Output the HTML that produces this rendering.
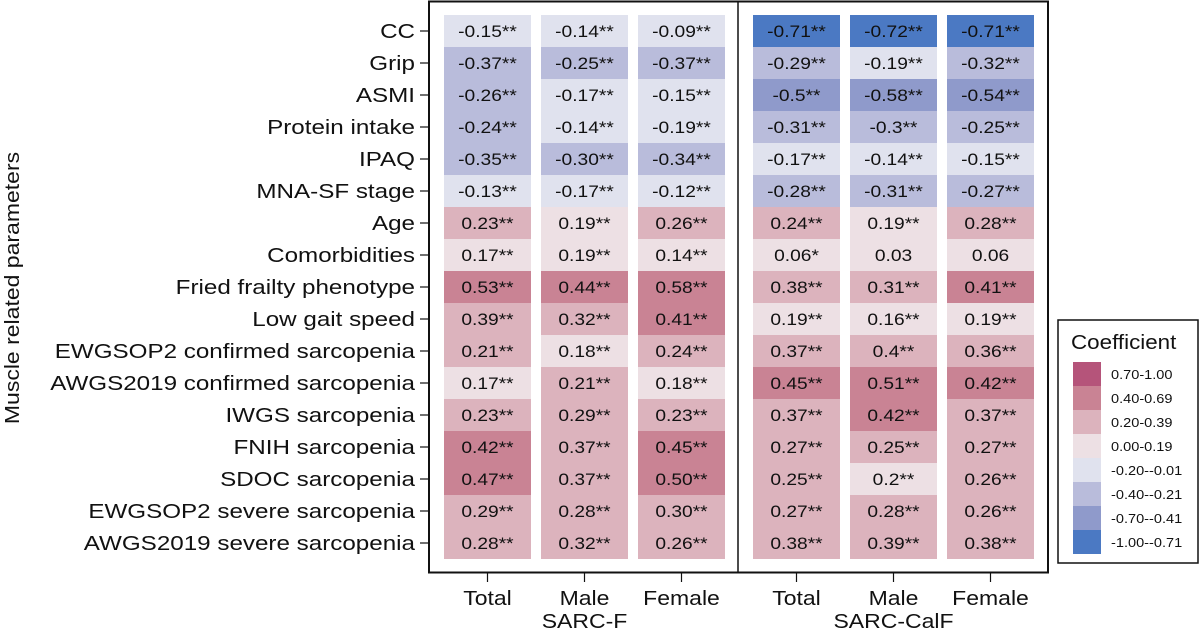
<!DOCTYPE html>
<html><head><meta charset="utf-8"><style>
body{margin:0;background:#fff;}
svg text{font-family:"Liberation Sans",Arial,sans-serif;fill:#111;}
</style></head><body>
<svg id="chart" width="1200" height="631" xmlns="http://www.w3.org/2000/svg">
<g id="cells"></g>
<g id="axes"></g>
<g id="legend"></g>
</svg>
<script>
const rows=["CC","Grip","ASMI","Protein intake","IPAQ","MNA-SF stage","Age","Comorbidities","Fried frailty phenotype","Low gait speed","EWGSOP2 confirmed sarcopenia","AWGS2019 confirmed sarcopenia","IWGS sarcopenia","FNIH sarcopenia","SDOC sarcopenia","EWGSOP2 severe sarcopenia","AWGS2019 severe sarcopenia"];
const cols=["Total","Male","Female","Total","Male","Female"];
const groups=["SARC-F","SARC-CalF"];
const labels=[
["-0.15**","-0.14**","-0.09**","-0.71**","-0.72**","-0.71**"],
["-0.37**","-0.25**","-0.37**","-0.29**","-0.19**","-0.32**"],
["-0.26**","-0.17**","-0.15**","-0.5**","-0.58**","-0.54**"],
["-0.24**","-0.14**","-0.19**","-0.31**","-0.3**","-0.25**"],
["-0.35**","-0.30**","-0.34**","-0.17**","-0.14**","-0.15**"],
["-0.13**","-0.17**","-0.12**","-0.28**","-0.31**","-0.27**"],
["0.23**","0.19**","0.26**","0.24**","0.19**","0.28**"],
["0.17**","0.19**","0.14**","0.06*","0.03","0.06"],
["0.53**","0.44**","0.58**","0.38**","0.31**","0.41**"],
["0.39**","0.32**","0.41**","0.19**","0.16**","0.19**"],
["0.21**","0.18**","0.24**","0.37**","0.4**","0.36**"],
["0.17**","0.21**","0.18**","0.45**","0.51**","0.42**"],
["0.23**","0.29**","0.23**","0.37**","0.42**","0.37**"],
["0.42**","0.37**","0.45**","0.27**","0.25**","0.27**"],
["0.47**","0.37**","0.50**","0.25**","0.2**","0.26**"],
["0.29**","0.28**","0.30**","0.27**","0.28**","0.26**"],
["0.28**","0.32**","0.26**","0.38**","0.39**","0.38**"]];
const values=[
[-0.15,-0.14,-0.09,-0.71,-0.72,-0.71],
[-0.37,-0.25,-0.37,-0.29,-0.19,-0.32],
[-0.26,-0.17,-0.15,-0.5,-0.58,-0.54],
[-0.24,-0.14,-0.19,-0.31,-0.3,-0.25],
[-0.35,-0.30,-0.34,-0.17,-0.14,-0.15],
[-0.13,-0.17,-0.12,-0.28,-0.31,-0.27],
[0.23,0.19,0.26,0.24,0.19,0.28],
[0.17,0.19,0.14,0.06,0.03,0.06],
[0.53,0.44,0.58,0.38,0.31,0.41],
[0.39,0.32,0.41,0.19,0.16,0.19],
[0.21,0.18,0.24,0.37,0.395,0.36],
[0.17,0.21,0.18,0.45,0.51,0.42],
[0.23,0.29,0.23,0.37,0.42,0.37],
[0.42,0.37,0.45,0.27,0.25,0.27],
[0.47,0.37,0.50,0.25,0.195,0.26],
[0.29,0.28,0.30,0.27,0.28,0.26],
[0.28,0.32,0.26,0.38,0.39,0.38]];
const binLabels=["0.70-1.00","0.40-0.69","0.20-0.39","0.00-0.19","-0.20--0.01","-0.40--0.21","-0.70--0.41","-1.00--0.71"];
const binLows=[0.7,0.4,0.2,0,-0.205,-0.405,-0.705,-1.01];
const binColors=["#b5547a","#c98394","#dcb3bd","#ede0e4","#e0e2ee","#b9bcdb","#8f9acb","#4b79c3"];

const NS="http://www.w3.org/2000/svg";
function mk(tag,attrs,parent,text){const e=document.createElementNS(NS,tag);for(const k in attrs)e.setAttribute(k,attrs[k]);if(text!==undefined)e.textContent=text;parent.appendChild(e);return e;}
function colorFor(v){for(let i=0;i<binLows.length;i++){if(v>=binLows[i])return binColors[i];}return binColors[binColors.length-1];}
const colLeft=[444,541,638,753,850,947], cellW=87, top0=15, rowH=32;
function xCenter(j){return colLeft[j]+cellW/2;}
function yTop(i){return top0+i*rowH;}
const cg=document.getElementById('cells'), ag=document.getElementById('axes'), lg=document.getElementById('legend');
values.forEach((r,i)=>r.forEach((v,j)=>{
  const rc=mk('rect',{x:colLeft[j],y:yTop(i),width:cellW,height:rowH,fill:colorFor(v)},cg);
  
  
  const t=mk('text',{x:0,y:0,'text-anchor':'middle','font-size':17,transform:`translate(${xCenter(j)},${yTop(i)+rowH/2+6}) scale(1.13,1)`},cg,labels[i][j]);
  
  
}));
mk('rect',{x:429,y:1.5,width:619,height:571,fill:'none',stroke:'#111','stroke-width':2},ag);
mk('line',{x1:738,y1:1,x2:738,y2:573,stroke:'#111','stroke-width':1.5},ag);
rows.forEach((r,i)=>{
  const y=yTop(i)+rowH/2;
  mk('line',{x1:420,y1:y,x2:429,y2:y,stroke:'#111','stroke-width':1.2},ag);
  const t=mk('text',{x:0,y:0,'text-anchor':'end','font-size':20,transform:`translate(415,${y+7}) scale(1.21,1)`},ag,r);
  
  
});
cols.forEach((c,j)=>{
  const x=xCenter(j);
  mk('line',{x1:x,y1:573,x2:x,y2:582,stroke:'#111','stroke-width':1.2},ag);
  const t=mk('text',{x:0,y:0,'text-anchor':'middle','font-size':20,transform:`translate(${x},605) scale(1.15,1)`},ag,c);
  
  
});
groups.forEach((g,k)=>{
  const t=mk('text',{x:0,y:0,'text-anchor':'middle','font-size':20,transform:`translate(${xCenter(k*3+1)},628) scale(1.15,1)`},ag,g);
  
  
});
const yt=mk('text',{x:0,y:0,'text-anchor':'middle','font-size':20,transform:'translate(19,288) rotate(-90) scale(1.15,1)'},ag,'Muscle related parameters');


mk('rect',{x:1058,y:320,width:140,height:243,fill:'#fff',stroke:'#111','stroke-width':1.5},lg);
const lt=mk('text',{x:0,y:0,'font-size':20,transform:'translate(1071,349) scale(1.12,1)'},lg,'Coefficient');


binLabels.forEach((b,i)=>{
  const r=mk('rect',{x:1073,y:362+i*24,width:28,height:24,fill:binColors[i]},lg);
  
  
  const t=mk('text',{x:0,y:0,'font-size':13,transform:`translate(1111,${379+i*24}) scale(1.12,1)`},lg,b);
  
  
});
</script>
</body></html>
